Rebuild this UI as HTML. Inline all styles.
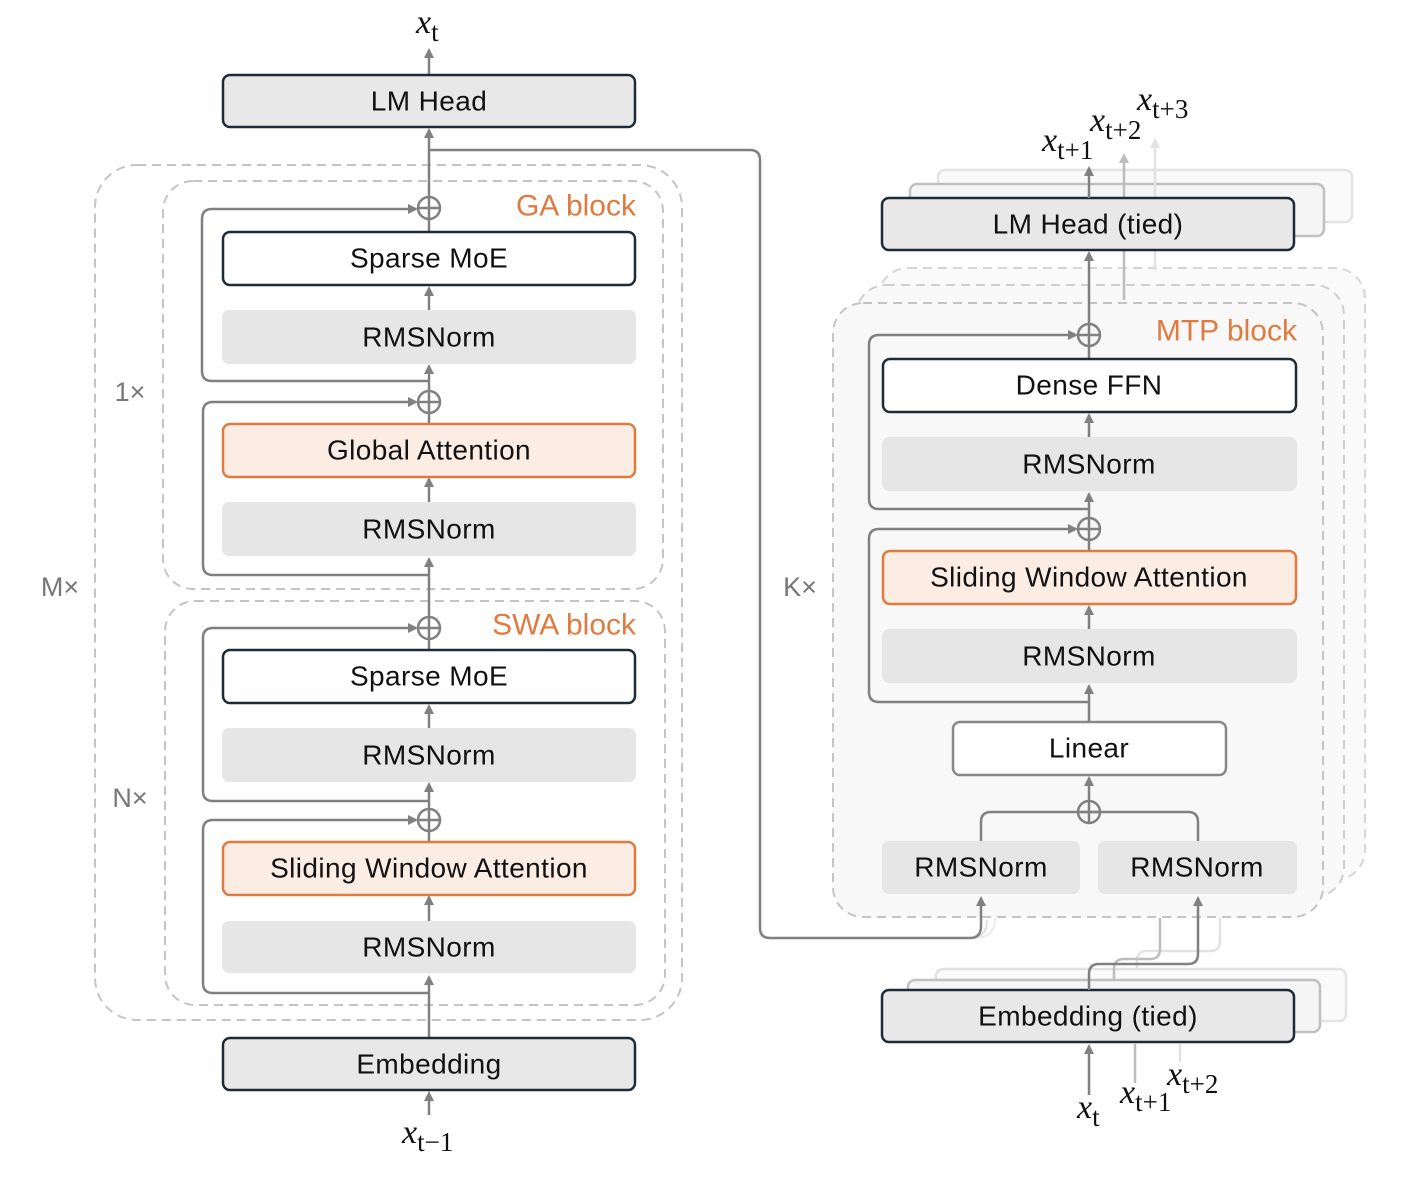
<!DOCTYPE html>
<html><head><meta charset="utf-8"><style>
html,body{margin:0;padding:0;background:#fff}
svg{display:block}
.lb{font-family:"Liberation Sans",sans-serif;font-size:28px;letter-spacing:0.4px;fill:#111;text-anchor:middle;dominant-baseline:central}
.or{font-family:"Liberation Sans",sans-serif;font-size:30px;fill:#e07b3f;text-anchor:end;dominant-baseline:central}
.rep{font-family:"Liberation Sans",sans-serif;font-size:27px;fill:#777;text-anchor:middle;dominant-baseline:central}
.mx{font-family:"Liberation Serif",serif;font-style:italic;font-size:34px;fill:#111}
.sb{font-family:"Liberation Serif",serif;font-style:normal;font-size:27px}
.ln{stroke:#808080;stroke-width:2.5;fill:none}
.dk{fill:#e8e8e8;stroke:#1e2a35;stroke-width:2.5}
.wh{fill:#fff;stroke:#1e2a35;stroke-width:2.5}
.og{fill:#fbece4;stroke:#e07b3f;stroke-width:2.5}
.gr{fill:#e6e6e6}
.ds{fill:none;stroke:#c4c4c4;stroke-width:2;stroke-dasharray:9 6}
</style></head><body>
<svg width="1418" height="1178" viewBox="0 0 1418 1178" xmlns="http://www.w3.org/2000/svg">
<defs>
<marker id="a" markerWidth="10" markerHeight="10" refX="8" refY="5" orient="auto" markerUnits="userSpaceOnUse"><path d="M0,0 L10,5 L0,10 z" fill="#808080"/></marker>
<marker id="a2" markerWidth="10" markerHeight="10" refX="8" refY="5" orient="auto" markerUnits="userSpaceOnUse"><path d="M0,0 L10,5 L0,10 z" fill="#bdbdbd"/></marker>
<marker id="a3" markerWidth="10" markerHeight="10" refX="8" refY="5" orient="auto" markerUnits="userSpaceOnUse"><path d="M0,0 L10,5 L0,10 z" fill="#e2e2e2"/></marker>
</defs>

<!-- LEFT -->
<rect x="95" y="165" width="587" height="855" rx="42" class="ds"/>
<rect x="163" y="181" width="500" height="408" rx="30" class="ds"/>
<rect x="165" y="601" width="500" height="404" rx="30" class="ds"/>
<text x="130" y="392" class="rep">1×</text>
<text x="130" y="798" class="rep">N×</text>
<text x="60" y="587" class="rep">M×</text>
<text x="636" y="206" class="or">GA block</text>
<text x="636" y="625" class="or">SWA block</text>

<path class="ln" d="M429 1038 V 977" marker-end="url(#a)"/>
<path class="ln" d="M429 921 V 897" marker-end="url(#a)"/>
<path class="ln" d="M429 842 V 832"/>
<path class="ln" d="M429 809 V 784" marker-end="url(#a)"/>
<path class="ln" d="M429 728 V 706" marker-end="url(#a)"/>
<path class="ln" d="M429 650 V 640"/>
<path class="ln" d="M429 617 V 559" marker-end="url(#a)"/>
<path class="ln" d="M429 502 V 479" marker-end="url(#a)"/>
<path class="ln" d="M429 424 V 414"/>
<path class="ln" d="M429 391 V 366" marker-end="url(#a)"/>
<path class="ln" d="M429 310 V 288" marker-end="url(#a)"/>
<path class="ln" d="M429 232 V 220"/>
<path class="ln" d="M429 197 V 130" marker-end="url(#a)"/>
<path class="ln" d="M429 75 V 50" marker-end="url(#a)"/>
<path class="ln" d="M429 1115 V 1093" marker-end="url(#a)"/>

<path class="ln" d="M429 993 H213 Q203 993 203 983 V830 Q203 820 213 820 H416" marker-end="url(#a)"/>
<path class="ln" d="M429 801 H213 Q203 801 203 791 V638 Q203 628 213 628 H416" marker-end="url(#a)"/>
<path class="ln" d="M429 575 H213 Q203 575 203 565 V412 Q203 402 213 402 H416" marker-end="url(#a)"/>
<path class="ln" d="M429 381 H212 Q202 381 202 371 V219 Q202 209 212 209 H416" marker-end="url(#a)"/>

<g class="ln">
<circle cx="429" cy="208" r="11"/><path d="M418 208 H440"/>
<circle cx="429" cy="402" r="11"/><path d="M418 402 H440"/>
<circle cx="429" cy="628" r="11"/><path d="M418 628 H440"/>
<circle cx="429" cy="820" r="11"/><path d="M418 820 H440"/>
</g>

<rect x="223" y="75" width="412" height="52" rx="7" class="dk"/><text x="429" y="101" class="lb">LM Head</text>
<rect x="223" y="232" width="412" height="53" rx="7" class="wh"/><text x="429" y="258" class="lb">Sparse MoE</text>
<rect x="222" y="310" width="414" height="54" rx="7" class="gr"/><text x="429" y="337" class="lb">RMSNorm</text>
<rect x="223" y="424" width="412" height="53" rx="7" class="og"/><text x="429" y="450" class="lb">Global Attention</text>
<rect x="222" y="502" width="414" height="54" rx="7" class="gr"/><text x="429" y="529" class="lb">RMSNorm</text>
<rect x="223" y="650" width="412" height="53" rx="7" class="wh"/><text x="429" y="676" class="lb">Sparse MoE</text>
<rect x="222" y="728" width="414" height="54" rx="7" class="gr"/><text x="429" y="755" class="lb">RMSNorm</text>
<rect x="223" y="842" width="412" height="53" rx="7" class="og"/><text x="429" y="868" class="lb">Sliding Window Attention</text>
<rect x="222" y="921" width="414" height="52" rx="7" class="gr"/><text x="429" y="947" class="lb">RMSNorm</text>
<rect x="223" y="1038" width="412" height="52" rx="7" class="dk"/><text x="429" y="1064" class="lb">Embedding</text>

<text x="416" y="33" class="mx">x<tspan class="sb" dy="8">t</tspan></text>
<text x="402" y="1143" class="mx">x<tspan class="sb" dy="8">t−1</tspan></text>

<!-- RIGHT back layers -->
<rect x="878" y="268" width="487" height="612" rx="30" style="fill:#fafafa;stroke:#d6d6d6;stroke-width:2;stroke-dasharray:9 6"/>
<rect x="856" y="285" width="488" height="612" rx="30" style="fill:#f9f9f9;stroke:#cfcfcf;stroke-width:2;stroke-dasharray:9 6"/>
<rect x="833" y="303" width="490" height="614" rx="30" style="fill:#f8f8f8;stroke:#c4c4c4;stroke-width:2;stroke-dasharray:9 6"/>
<text x="1297" y="331" class="or">MTP block</text>
<text x="800" y="587" class="rep">K×</text>

<rect x="938" y="170" width="414" height="52" rx="7" fill="#fafafa" stroke="#e3e3e3" stroke-width="2.5"/>
<rect x="910" y="184" width="414" height="52" rx="7" fill="#f5f5f5" stroke="#c0c0c0" stroke-width="2.5"/>
<path d="M1155 270 V140" stroke="#e2e2e2" stroke-width="2.5" marker-end="url(#a3)"/>
<path d="M1124 300 V155" stroke="#bdbdbd" stroke-width="2.5" marker-end="url(#a2)"/>
<rect x="882" y="198" width="412" height="52" rx="7" class="dk"/><text x="1088" y="224" class="lb">LM Head (tied)</text>
<path class="ln" d="M1089 198 V168" marker-end="url(#a)"/>

<rect x="936" y="969" width="410" height="52" rx="7" fill="#fafafa" stroke="#e3e3e3" stroke-width="2.5"/>
<rect x="908" y="980" width="412" height="52" rx="7" fill="#f5f5f5" stroke="#c0c0c0" stroke-width="2.5"/>
<path d="M1137 969 V961 Q1137 951 1147 951 H1210 Q1220 951 1220 941 V918" stroke="#e2e2e2" stroke-width="2.5" fill="none"/>
<path d="M1114 980 V969 Q1114 959 1124 959 H1150 Q1160 959 1160 949 V918" stroke="#bdbdbd" stroke-width="2.5" fill="none"/>
<path d="M1135 1083 V1044" stroke="#bdbdbd" stroke-width="2.5"/>
<path d="M1180 1062 V1044" stroke="#e2e2e2" stroke-width="2.5"/>
<rect x="882" y="990" width="412" height="52" rx="7" class="dk"/><text x="1088" y="1016" class="lb">Embedding (tied)</text>
<path class="ln" d="M1089 990 V974 Q1089 964 1099 964 H1188 Q1198 964 1198 954 V898" marker-end="url(#a)"/>
<path class="ln" d="M1089 1095 V1046" marker-end="url(#a)"/>

<path class="ln" d="M1089 324 V253" marker-end="url(#a)"/>
<path class="ln" d="M1089 359 V347"/>
<path class="ln" d="M1089 437 V415" marker-end="url(#a)"/>
<path class="ln" d="M1089 518 V494" marker-end="url(#a)"/>
<path class="ln" d="M1089 551 V541"/>
<path class="ln" d="M1089 629 V607" marker-end="url(#a)"/>
<path class="ln" d="M1089 722 V686" marker-end="url(#a)"/>
<path class="ln" d="M1089 801 V778" marker-end="url(#a)"/>
<path class="ln" d="M981 841 V822 Q981 812 991 812 H1188 Q1198 812 1198 822 V841"/>
<path class="ln" d="M1089 702 H879 Q869 702 869 692 V539 Q869 529 879 529 H1076" marker-end="url(#a)"/>
<path class="ln" d="M1089 509 H879 Q869 509 869 499 V345 Q869 335 879 335 H1076" marker-end="url(#a)"/>

<path d="M987 920 Q987 938 970 938" stroke="#e0e0e0" stroke-width="2" fill="none"/>
<path d="M995 918 Q995 938 975 938" stroke="#ececec" stroke-width="2" fill="none"/>
<path class="ln" d="M429 150 H750 Q760 150 760 160 V928 Q760 938 770 938 H970 Q981 938 981 926 V898" marker-end="url(#a)"/>

<g class="ln">
<circle cx="1089" cy="335" r="11"/><path d="M1078 335 H1100"/>
<circle cx="1089" cy="529" r="11"/><path d="M1078 529 H1100"/>
<circle cx="1089" cy="812" r="11"/><path d="M1078 812 H1100 M1089 801 V823"/>
</g>

<rect x="883" y="359" width="413" height="53" rx="7" class="wh"/><text x="1089" y="385" class="lb">Dense FFN</text>
<rect x="882" y="437" width="415" height="54" rx="7" class="gr"/><text x="1089" y="464" class="lb">RMSNorm</text>
<rect x="883" y="551" width="413" height="53" rx="7" class="og"/><text x="1089" y="577" class="lb">Sliding Window Attention</text>
<rect x="882" y="629" width="415" height="54" rx="7" class="gr"/><text x="1089" y="656" class="lb">RMSNorm</text>
<rect x="953" y="722" width="273" height="53" rx="7" fill="#fff" stroke="#888" stroke-width="2.5"/><text x="1089" y="748" class="lb">Linear</text>
<rect x="882" y="841" width="198" height="53" rx="7" class="gr"/><text x="981" y="867" class="lb">RMSNorm</text>
<rect x="1098" y="841" width="199" height="53" rx="7" class="gr"/><text x="1197" y="867" class="lb">RMSNorm</text>

<g class="ln">
<path d="M429 197 V219 M429 391 V413 M429 617 V639 M429 809 V831 M1089 324 V346 M1089 518 V540"/>
</g>

<text x="1042" y="151" class="mx">x<tspan class="sb" dy="8">t+1</tspan></text>
<text x="1090" y="131" class="mx">x<tspan class="sb" dy="8">t+2</tspan></text>
<text x="1137" y="110" class="mx">x<tspan class="sb" dy="8">t+3</tspan></text>
<text x="1077" y="1118" class="mx">x<tspan class="sb" dy="8">t</tspan></text>
<text x="1120" y="1103" class="mx">x<tspan class="sb" dy="8">t+1</tspan></text>
<text x="1167" y="1085" class="mx">x<tspan class="sb" dy="8">t+2</tspan></text>
</svg>
</body></html>
